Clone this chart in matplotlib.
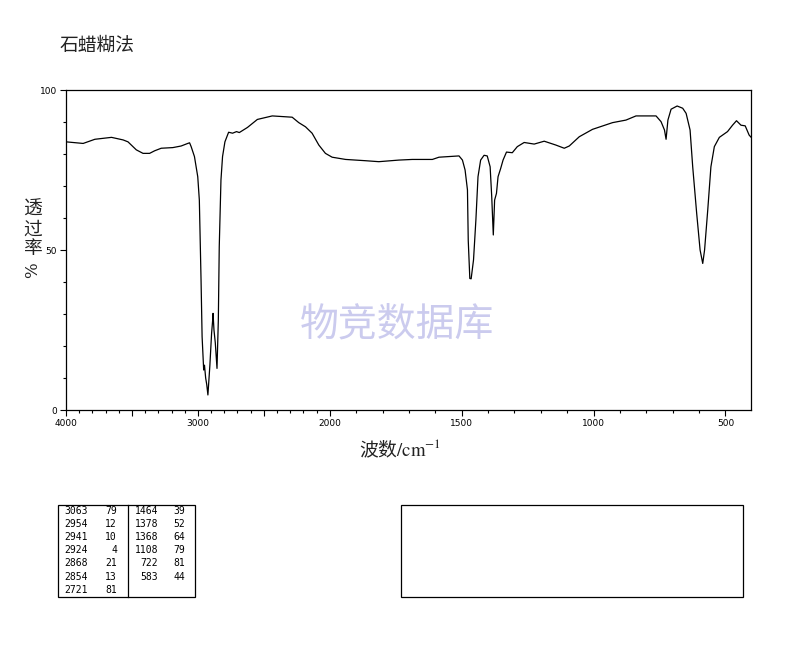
import numpy as np
import matplotlib
matplotlib.use("Agg")
import matplotlib.pyplot as plt
from matplotlib.patches import Rectangle
from matplotlib.ticker import FixedLocator, NullFormatter

plt.rcParams['font.family'] = ['Noto Sans CJK SC', 'DejaVu Sans']
plt.rcParams['mathtext.fontset'] = 'stix'

# spectrum (wavenumber cm-1, transmittance %)
wavenumber = [4000, 3870, 3781, 3655, 3567, 3530, 3467, 3416, 3366, 3328,
              3278, 3190, 3127, 3077, 3063, 3051, 3026, 3001, 2989, 2976,
              2968, 2956, 2950, 2941, 2933, 2924, 2909, 2896, 2888, 2885,
              2878, 2868, 2855, 2845, 2838, 2825, 2813, 2795, 2767, 2737,
              2707, 2686, 2624, 2549, 2436, 2285, 2235, 2184, 2134, 2083,
              2033, 1991, 1940, 1864, 1814, 1738, 1687, 1611, 1586, 1510,
              1497, 1487, 1478, 1475, 1469, 1464, 1455, 1446, 1438, 1428,
              1415, 1403, 1392, 1386, 1380, 1375, 1368, 1362, 1352, 1343,
              1330, 1308, 1289, 1263, 1225, 1187, 1143, 1111, 1092, 1054,
              1004, 928, 877, 839, 763, 744, 731, 725, 718, 706,
              683, 662, 649, 634, 624, 609, 596, 586, 579, 567,
              555, 542, 523, 492, 473, 458, 441, 425, 410, 400]
transmittance = [83.8, 83.3, 84.6, 85.2, 84.4, 83.8, 81.3, 80.2, 80.2, 81.0,
                 81.8, 82.0, 82.5, 83.3, 83.5, 82.3, 79.2, 72.9, 65.6, 40.6,
                 22.9, 12.5, 14.0, 10.0, 8.0, 4.7, 14.0, 24.0, 28.0, 30.2,
                 25.0, 21.0, 13.0, 28.0, 51.0, 71.9, 79.2, 83.8, 86.8, 86.5,
                 87.0, 86.7, 88.3, 90.8, 91.9, 91.5, 89.8, 88.5, 86.5, 82.8,
                 80.2, 79.0, 78.3, 77.9, 77.6, 78.1, 78.3, 78.3, 79.0, 79.4,
                 78.1, 75.0, 68.8, 53.0, 41.1, 41.0, 46.9, 59.4, 72.9, 78.1,
                 79.6, 79.4, 76.0, 66.7, 54.7, 65.6, 67.7, 72.9, 75.5, 78.1,
                 80.6, 80.4, 82.3, 83.6, 83.1, 84.0, 82.8, 81.8, 82.5, 85.4,
                 87.7, 89.8, 90.6, 91.9, 91.9, 90.1, 87.5, 84.6, 90.6, 94.0,
                 95.0, 94.3, 92.7, 87.5, 76.0, 61.5, 50.0, 45.8, 50.0, 62.5,
                 76.0, 82.3, 85.2, 87.0, 89.0, 90.4, 89.0, 88.8, 85.9, 85.0]

# peak table
peak_wn = [3063, 2954, 2941, 2924, 2868, 2854, 2721,
           1464, 1378, 1368, 1108, 722, 583]
peak_t = [79, 12, 10, 4, 21, 13, 81,
          39, 52, 64, 79, 81, 44]

x_ticks = [4000, 3000, 2000, 1500, 1000, 500]
y_ticks = [0, 50, 100]


# wavenumber axis is compressed 2:1 above 2000 cm-1
def fwd(x):
    x = np.asarray(x, dtype=float)
    return np.where(x > 2000, 2000 + (x - 2000) / 2, x)


def inv(u):
    u = np.asarray(u, dtype=float)
    return np.where(u > 2000, 2000 + (u - 2000) * 2, u)


fig = plt.figure(figsize=(7.94, 6.52), dpi=100)
ax = fig.add_axes([66 / 794, 1 - 410 / 652, 685 / 794, 320 / 652])
ax.set_xscale('function', functions=(fwd, inv))
ax.plot(wavenumber, transmittance, color='black', linewidth=0.9)
ax.set_xlim(4000, 403)
ax.set_ylim(0, 100)

major_x = sorted(x_ticks + [3500, 2500])
minor_x = [w for w in range(500, 4001, 100) if w not in major_x]
ax.xaxis.set_major_locator(FixedLocator(major_x))
ax.set_xticklabels([str(w) if w in x_ticks else '' for w in major_x])
ax.xaxis.set_minor_locator(FixedLocator(minor_x))
ax.xaxis.set_minor_formatter(NullFormatter())

ax.yaxis.set_major_locator(FixedLocator(y_ticks))
ax.set_yticklabels([str(v) for v in y_ticks])
ax.yaxis.set_minor_locator(FixedLocator(range(10, 100, 10)))
ax.yaxis.set_minor_formatter(NullFormatter())

ax.tick_params(which='major', direction='out', length=4.5, width=0.8,
               labelsize=6.5, pad=2, labelfontfamily='DejaVu Sans')
ax.tick_params(which='minor', direction='out', length=2.2, width=0.8)
for s in ax.spines.values():
    s.set_linewidth(0.9)

# titles and labels
fig.text(60 / 794, 1 - 45 / 652, '石蜡糊法', fontsize=13.5, color='#222222',
         ha='left', va='center')
fig.text(33 / 794, 1 - 229 / 652, '透\n过\n率', fontsize=13.5,
         color='#222222', ha='center', va='center', linespacing=0.9)
fig.text(33 / 794, 1 - 270 / 652, '%', fontsize=12, color='#222222',
         ha='center', va='center', rotation=90, family='DejaVu Serif')
fig.text(400 / 794, 1 - 450 / 652, r'波数$/\mathrm{cm}^{-1}$', fontsize=13.5,
         color='#222222', ha='center', va='center')

# watermark
fig.text(397 / 794, 1 - 325 / 652, '物竞数据库', fontsize=28,
         color='#cbcbee', ha='center', va='center', fontweight='light',
         zorder=0)

# boxes below the chart
fig.patches.append(Rectangle((58 / 794, 1 - 597 / 652), 137 / 794, 92 / 652,
                             transform=fig.transFigure, fill=False,
                             edgecolor='black', linewidth=0.9))
fig.add_artist(plt.Line2D([128 / 794, 128 / 794], [1 - 597 / 652, 1 - 505 / 652],
                          transform=fig.transFigure, color='black', linewidth=0.9))
fig.patches.append(Rectangle((401 / 794, 1 - 597 / 652), 342 / 794, 92 / 652,
                             transform=fig.transFigure, fill=False,
                             edgecolor='black', linewidth=0.9))

for i, (w, t) in enumerate(zip(peak_wn, peak_t)):
    col = 0 if i < 7 else 1
    row = i if i < 7 else i - 7
    y = 1 - (511 + row * 13.1) / 652
    x_w = (88 if col == 0 else 158) / 794
    x_t = (117 if col == 0 else 185) / 794
    fig.text(x_w, y, str(w), fontsize=7, family='DejaVu Sans Mono',
             ha='right', va='center')
    fig.text(x_t, y, str(t), fontsize=7, family='DejaVu Sans Mono',
             ha='right', va='center')

fig.savefig('out.png', dpi=100)
